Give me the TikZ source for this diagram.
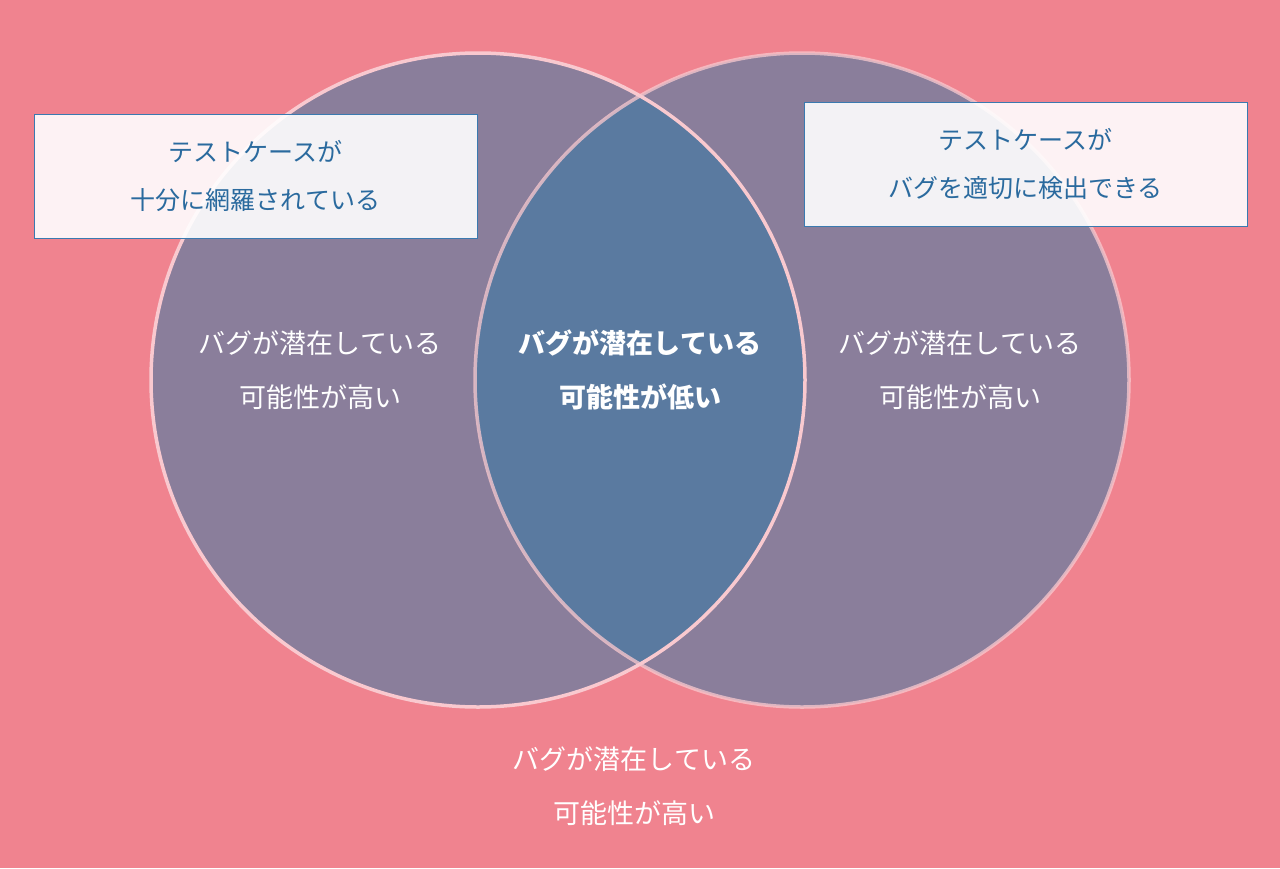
\documentclass[tikz,border=0pt]{standalone}
\usepackage{fontspec}
\newfontfamily\jp{Noto Sans CJK JP}
\definecolor{bg}{HTML}{F0838F}
\definecolor{circ}{HTML}{8A7E9B}
\definecolor{mid}{HTML}{5A7AA0}
\definecolor{ring}{HTML}{F9C9CF}
\definecolor{boxline}{HTML}{3A7AB0}
\definecolor{boxtext}{HTML}{2A6A9E}
\begin{document}
\begin{tikzpicture}[x=1pt,y=-1pt,
  lbl/.style={text=white,font=\jp\fontsize{27}{54}\selectfont,align=center},
  tbox/.style={draw=boxline,line width=0.8pt,fill=white,fill opacity=0.9,text opacity=1,text=boxtext,font=\jp\fontsize{25}{48}\selectfont,align=center,minimum width=443pt,minimum height=124pt,inner sep=0pt}]
\fill[bg] (0,0) rectangle (1280,868);
\useasboundingbox (0,0) rectangle (1280,868);
\fill[circ] (478,380) circle (327);
\fill[circ] (802,380) circle (327);
\begin{scope}
\clip (478,380) circle (327);
\fill[mid] (802,380) circle (327);
\end{scope}
\draw[ring,line width=3.5pt] (478,380) circle (327);
\draw[ring,line width=3.5pt,opacity=0.75] (802,380) circle (327);
\node[tbox] (lb) at (255.5,176) {テストケースが\\十分に網羅されている};
\node[tbox] (rb) at (1025.5,164) {テストケースが\\バグを適切に検出できる};
\node[lbl] (l) at (320,370) {バグが潜在している\\可能性が高い};
\node[lbl,font=\jp\bfseries\fontsize{27}{54}\selectfont] (c) at (640,370) {バグが潜在している\\可能性が低い};
\node[lbl] (r) at (960,370) {バグが潜在している\\可能性が高い};
\node[lbl] (b) at (634,786) {バグが潜在している\\可能性が高い};
\end{tikzpicture}
\end{document}
